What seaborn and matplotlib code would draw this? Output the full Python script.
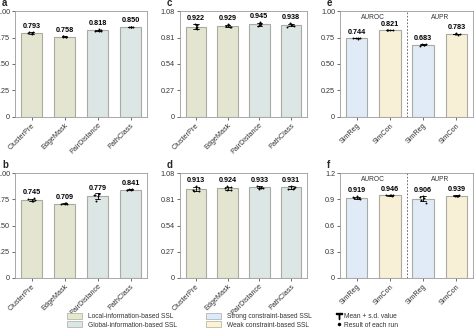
import numpy as np
import pandas as pd
import matplotlib
matplotlib.use("Agg")
import matplotlib.pyplot as plt
from matplotlib.patches import Patch
from matplotlib.lines import Line2D
import seaborn as sns

sns.set_style("white")
plt.rcParams["font.family"] = ["Liberation Sans", "DejaVu Sans"]

# ---------------- data ----------------
ssl_tasks = ["ClusterPre", "EdgeMask", "PairDistance", "PathClass"]
sim_tasks = ["SimReg", "SimCon", "SimReg", "SimCon"]
sim_groups = ["AUROC", "AUPR"]

runs_a = [[0.805, 0.798, 0.790, 0.782, 0.790],
          [0.762, 0.760, 0.756, 0.754, 0.758],
          [0.826, 0.820, 0.816, 0.812, 0.816],
          [0.853, 0.851, 0.850, 0.848, 0.848]]
runs_b = [[0.760, 0.752, 0.745, 0.738, 0.730],
          [0.714, 0.712, 0.709, 0.706, 0.704],
          [0.800, 0.790, 0.785, 0.790, 0.730],
          [0.845, 0.843, 0.841, 0.839, 0.837]]
runs_c = [[0.950, 0.935, 0.920, 0.905, 0.900],
          [0.945, 0.938, 0.930, 0.920, 0.912],
          [0.965, 0.955, 0.945, 0.935, 0.925],
          [0.955, 0.948, 0.940, 0.928, 0.919]]
runs_d = [[0.945, 0.925, 0.910, 0.895, 0.890],
          [0.945, 0.935, 0.925, 0.910, 0.905],
          [0.950, 0.940, 0.930, 0.925, 0.920],
          [0.950, 0.940, 0.930, 0.920, 0.915]]
runs_e = [[0.748, 0.746, 0.744, 0.742, 0.740],
          [0.824, 0.822, 0.821, 0.820, 0.818],
          [0.692, 0.688, 0.683, 0.678, 0.674],
          [0.788, 0.785, 0.783, 0.781, 0.778]]
runs_f = [[0.935, 0.925, 0.918, 0.910, 0.907],
          [0.950, 0.948, 0.946, 0.944, 0.942],
          [0.940, 0.925, 0.910, 0.895, 0.860],
          [0.945, 0.942, 0.939, 0.936, 0.933]]

labels_a = ["0.793", "0.758", "0.818", "0.850"]
labels_b = ["0.745", "0.709", "0.779", "0.841"]
labels_c = ["0.922", "0.929", "0.945", "0.938"]
labels_d = ["0.913", "0.924", "0.933", "0.931"]
labels_e = ["0.744", "0.821", "0.683", "0.783"]
labels_f = ["0.919", "0.946", "0.906", "0.939"]

yticks_ab = [0, 0.25, 0.50, 0.75, 1.00]
yticklabels_ab = ["0", "0.25", "0.50", "0.75", "1.00"]
yticks_cd = [0, 0.27, 0.54, 0.81, 1.08]
yticklabels_cd = ["0", "0.27", "0.54", "0.81", "1.08"]
yticks_e = [0, 0.25, 0.50, 0.75, 1.00]
yticklabels_e = ["0", "0.25", "0.50", "0.75", "1.00"]
yticks_f = [0, 0.3, 0.6, 0.9, 1.2]
yticklabels_f = ["0", "0.3", "0.6", "0.9", "1.2"]

legend_ssl = ["Local-information-based SSL", "Global-information-based SSL"]
legend_sim = ["Strong constraint-based SSL", "Weak constraint-based SSL"]
legend_marks = ["Mean + s.d. value", "Result of each run"]

# ---------------- style ----------------
c_local = "#e6e8cc"
c_global = "#dbe7e5"
c_strong = "#dcebfb"
c_weak = "#fdf2d2"
edge = "#a9aba3"
spine_c = "#9a9a9a"
txt_c = "#333333"

W, H = 474, 332
fig = plt.figure(figsize=(W / 100, H / 100), dpi=100)


def ax_at(x0, y0, x1, y1):
    return fig.add_axes([x0 / W, 1 - y1 / H, (x1 - x0) / W, (y1 - y0) / H])


def panel(ax, runs, names, colors, labels, ymax, yticks, yticklabels, letter, sim=False):
    keys = [f"{i}_{n}" for i, n in enumerate(names)]
    rows = []
    for k, r in zip(keys, runs):
        for v in r:
            rows.append({"cat": k, "val": v})
    df = pd.DataFrame(rows)
    pal = dict(zip(keys, colors))
    sns.barplot(data=df, x="cat", y="val", hue="cat", order=keys, palette=pal,
                legend=False, errorbar="sd", capsize=0.18, width=0.64,
                edgecolor=edge, linewidth=0.8,
                err_kws={"linewidth": 0.6, "color": "black"}, ax=ax)
    sns.stripplot(data=df, x="cat", y="val", order=keys, color="black",
                  size=1.4, jitter=0.12, ax=ax, zorder=5)
    for i, (r, lab) in enumerate(zip(runs, labels)):
        ax.text(i, max(r) + 0.02 * ymax, lab, ha="center", va="bottom",
                fontsize=5.2, fontweight="bold", color="black")
    ax.set_xlim(-0.5, 3.5)
    ax.set_ylim(0, ymax)
    ax.set_yticks(yticks)
    ax.set_yticklabels(yticklabels)
    ax.set_xticks(range(4))
    ax.set_xticklabels(names, rotation=45, ha="right", rotation_mode="anchor")
    ax.set_xlabel("")
    ax.set_ylabel("")
    ax.tick_params(axis="both", labelsize=5.2, colors=txt_c, length=2, width=0.5,
                   pad=1.5, direction="out", bottom=True, left=True)
    for s in ax.spines.values():
        s.set_color(spine_c)
        s.set_linewidth(0.6)
    if sim:
        ax.axvline(1.5, color="#555555", linestyle=(0, (2, 2)), linewidth=0.6)
        for j, g in enumerate(sim_groups):
            ax.text(0.5 + 2 * j, ymax * 0.975, g, ha="center", va="top",
                    fontsize=4.8, color=txt_c)
    pos = ax.get_position()
    fig.text(pos.x0 - 13 / W, pos.y1 + 3 / H, letter, fontsize=7,
             fontweight="bold", ha="left", va="bottom")


ssl_colors = [c_local, c_local, c_global, c_global]
sim_colors = [c_strong, c_weak, c_strong, c_weak]

ax_a = ax_at(15, 11, 147, 117)
ax_c = ax_at(180, 11, 307, 117)
ax_e = ax_at(340, 11, 473, 117)
ax_b = ax_at(15, 173, 147, 278)
ax_d = ax_at(180, 173, 307, 278)
ax_f = ax_at(340, 173, 473, 278)

panel(ax_a, runs_a, ssl_tasks, ssl_colors, labels_a, 1.0, yticks_ab, yticklabels_ab, "a")
panel(ax_b, runs_b, ssl_tasks, ssl_colors, labels_b, 1.0, yticks_ab, yticklabels_ab, "b")
panel(ax_c, runs_c, ssl_tasks, ssl_colors, labels_c, 1.08, yticks_cd, yticklabels_cd, "c")
panel(ax_d, runs_d, ssl_tasks, ssl_colors, labels_d, 1.08, yticks_cd, yticklabels_cd, "d")
panel(ax_e, runs_e, sim_tasks, sim_colors, labels_e, 1.0, yticks_e, yticklabels_e, "e", sim=True)
panel(ax_f, runs_f, sim_tasks, sim_colors, labels_f, 1.2, yticks_f, yticklabels_f, "f", sim=True)

# ---------------- legends ----------------
leg_kw = dict(frameon=False, fontsize=4.8, handlelength=2.2, handleheight=1.0,
              handletextpad=0.9, labelspacing=0.15, borderpad=0, borderaxespad=0,
              labelcolor=txt_c)
h1 = [Patch(facecolor=c_local, edgecolor=edge, linewidth=0.5),
      Patch(facecolor=c_global, edgecolor=edge, linewidth=0.5)]
fig.legend(h1, legend_ssl, loc="upper left", bbox_to_anchor=(67 / W, 1 - 313 / H), **leg_kw)
h2 = [Patch(facecolor=c_strong, edgecolor=edge, linewidth=0.5),
      Patch(facecolor=c_weak, edgecolor=edge, linewidth=0.5)]
fig.legend(h2, legend_sim, loc="upper left", bbox_to_anchor=(206 / W, 1 - 313 / H), **leg_kw)
h3 = [Line2D([], [], marker=r"$\mathsf{T}$", linestyle="none", color="black", markersize=4.5),
      Line2D([], [], marker="o", linestyle="none", color="black", markersize=1.5)]
leg3 = dict(leg_kw)
leg3.update(handlelength=0.8, handletextpad=0.4)
fig.legend(h3, legend_marks, loc="upper left", bbox_to_anchor=(336 / W, 1 - 313 / H), **leg3)

fig.savefig("out.png", dpi=100)
